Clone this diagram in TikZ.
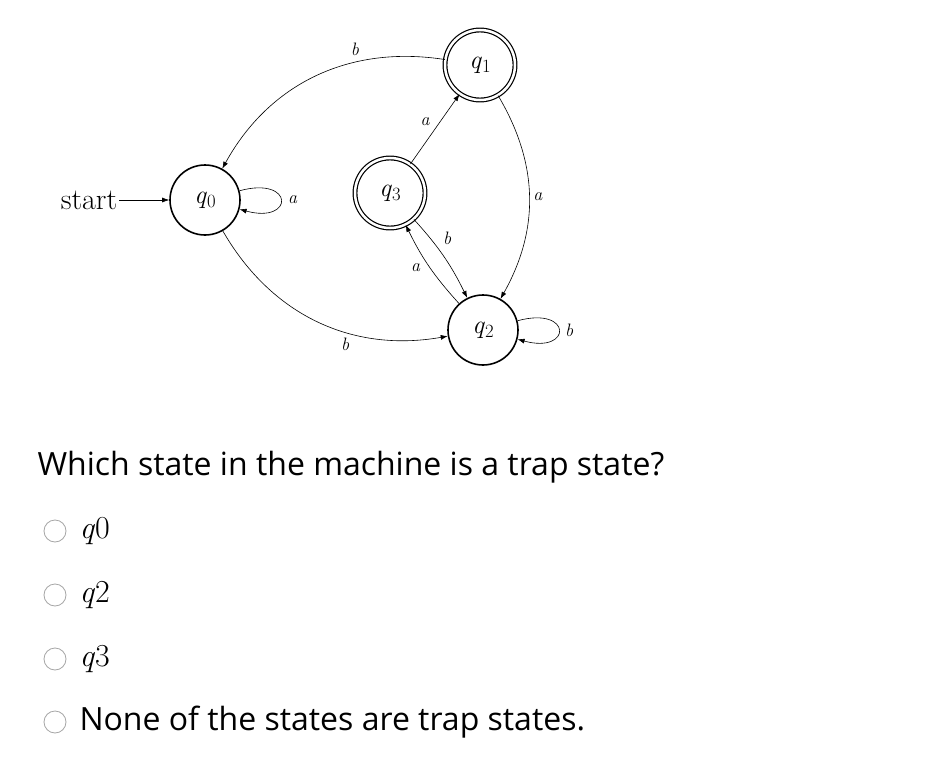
\documentclass[tikz,border=0pt]{standalone}
\usepackage{fontspec}
\newfontfamily\qfont{Open Sans}
\usetikzlibrary{arrows.meta}
\newcommand{\qsub}[1]{\textit{q}\raisebox{-0.18em}{\scalebox{0.72}{#1}}}
\newcommand{\qit}[1]{\textit{q}#1}
\begin{document}
\begin{tikzpicture}[x=1pt,y=-1pt,
  st/.style={circle,draw,line width=1.6pt,minimum size=70pt,inner sep=0pt,font=\fontsize{26}{26}\selectfont},
  acc/.style={st,double,double distance=2.5pt,line width=1.2pt},
  tr/.style={-{Latex[length=7pt,width=5pt]},line width=0.6pt},
  lb/.style={font=\fontsize{18}{18}\selectfont\itshape,inner sep=4pt},
  radio/.style={circle,draw=gray!70,line width=0.8pt,minimum size=22pt,inner sep=0pt},
  opt/.style={anchor=west,font=\fontsize{32}{32}\selectfont},
  qtext/.style={anchor=west,font=\qfont\fontsize{32}{32}\selectfont}]
\useasboundingbox (0,0) rectangle (932,768);
\fill[white] (0,0) rectangle (932,768);
\node[st] (q0) at (205,200) {\qsub{0}};
\node[acc] (q3) at (390,193) {\qsub{3}};
\node[acc] (q1) at (480,65) {\qsub{1}};
\node[st] (q2) at (483,330) {\qsub{2}};
\node[font=\fontsize{30}{30}\selectfont,inner sep=2pt] (start) at (89,200) {start};
\draw[tr] (start) -- (q0);
\draw[tr] (q1) to[bend right=35] node[lb,pos=0.3,above left] {b} (q0);
\draw[tr] (q0) to[bend right=35] node[lb,pos=0.65,below left] {b} (q2);
\draw[tr] (q1) to[bend left=30] node[lb,right] {a} (q2);
\draw[tr] (q3) -- node[lb,pos=0.6,left=6pt] {a} (q1);
\draw[tr] (q3) to[bend left=8] node[lb,pos=0.4,above right] {b} (q2);
\draw[tr] (q2) to[bend left=8] node[lb,pos=0.6,below left] {a} (q3);
\draw[tr] (q0.15) .. controls +(55,-15) and +(55,15) .. node[lb,right=3pt] {a} (q0.-15);
\draw[tr] (q2.15) .. controls +(55,-15) and +(55,15) .. node[lb,right=2pt] {b} (q2.-15);
\node[qtext] (qq) at (34,467) {Which state in the machine is a trap state?};
\node[radio] (r1) at (55,531) {};
\node[radio] (r2) at (55,595) {};
\node[radio] (r3) at (55,659) {};
\node[radio] (r4) at (55,722) {};
\node[opt] at (76,531) {\qit{0}};
\node[opt] at (76,595) {\qit{2}};
\node[opt] at (76,659) {\qit{3}};
\node[qtext] at (76,722) {None of the states are trap states.};
\end{tikzpicture}
\end{document}
